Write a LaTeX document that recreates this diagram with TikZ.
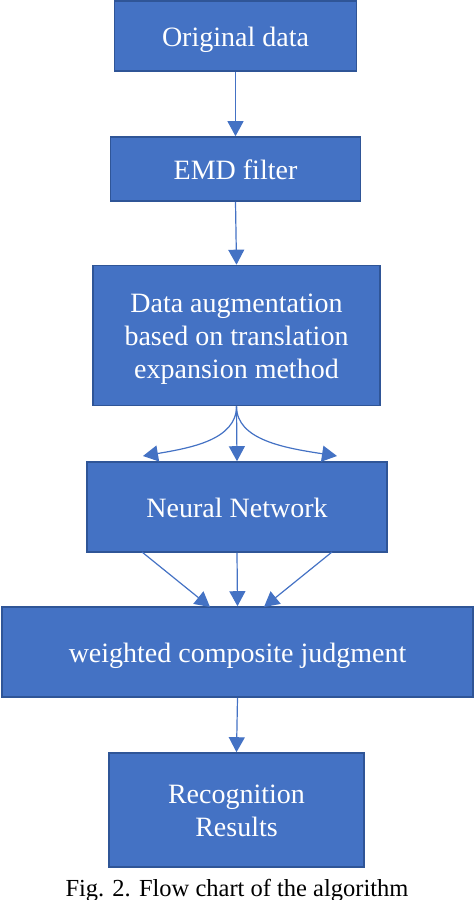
\documentclass[tikz,border=0pt]{standalone}
\usepackage{fontspec}
\setmainfont{Liberation Serif}
\usetikzlibrary{arrows.meta,calc}
\definecolor{boxfill}{HTML}{4472C4}
\definecolor{boxline}{HTML}{2F5597}
\definecolor{arrowcol}{HTML}{4472C4}
\begin{document}
\begin{tikzpicture}[x=1pt,y=-1pt,
  flowbox/.style={draw=boxline,fill=boxfill,line width=1.6pt,inner sep=0pt,
    text height=22pt,text depth=2pt,
    text=white,align=center,font=\fontsize{28}{33}\selectfont},
  conn/.style={draw=arrowcol,line width=1.2pt,-{Triangle[length=15pt,width=16pt]}}]
\useasboundingbox (0,0) rectangle (474,900);
\node[flowbox,minimum width=242pt,minimum height=70pt] (b1) at (235.5,36) {Original data};
\node[flowbox,minimum width=250pt,minimum height=64pt] (b2) at (235.5,169) {EMD filter};
\node[flowbox,text height=88pt,minimum width=287pt,minimum height=140pt] (b3) at (236.5,335.5) {Data augmentation\\based on translation\\expansion method};
\node[flowbox,minimum width=300pt,minimum height=90pt] (b4) at (237,507) {Neural Network};
\node[flowbox,minimum width=471pt,minimum height=90pt] (b5) at (237.5,652) {weighted composite judgment};
\node[flowbox,text height=55pt,minimum width=255pt,minimum height=114pt] (b6) at (236.5,810) {Recognition\\Results};
\node[font=\fontsize{24.5}{28}\selectfont,anchor=base] (cap) at (237,896) {Fig. 2. Flow chart of the algorithm};
\coordinate (lt) at (143,456);
\coordinate (rt) at (337,456);
\coordinate (nl) at (142,552);
\coordinate (nr) at (332,552);
\coordinate (wl) at (210,607);
\coordinate (wr) at (264,607);
\draw[conn] (b1.south) -- (b2.north);
\draw[conn] (b2.south) -- (b3.north);
\draw[conn] (b3.south) .. controls (236.5,440) and (190,448) .. (lt);
\draw[conn] (b3.south) -- (b4.north);
\draw[conn] (b3.south) .. controls (236.5,440) and (285,448) .. (rt);
\draw[conn] (nl) -- (wl);
\draw[conn] (b4.south) -- (b5.north);
\draw[conn] (nr) -- (wr);
\draw[conn] (b5.south) -- (b6.north);
\end{tikzpicture}
\end{document}
